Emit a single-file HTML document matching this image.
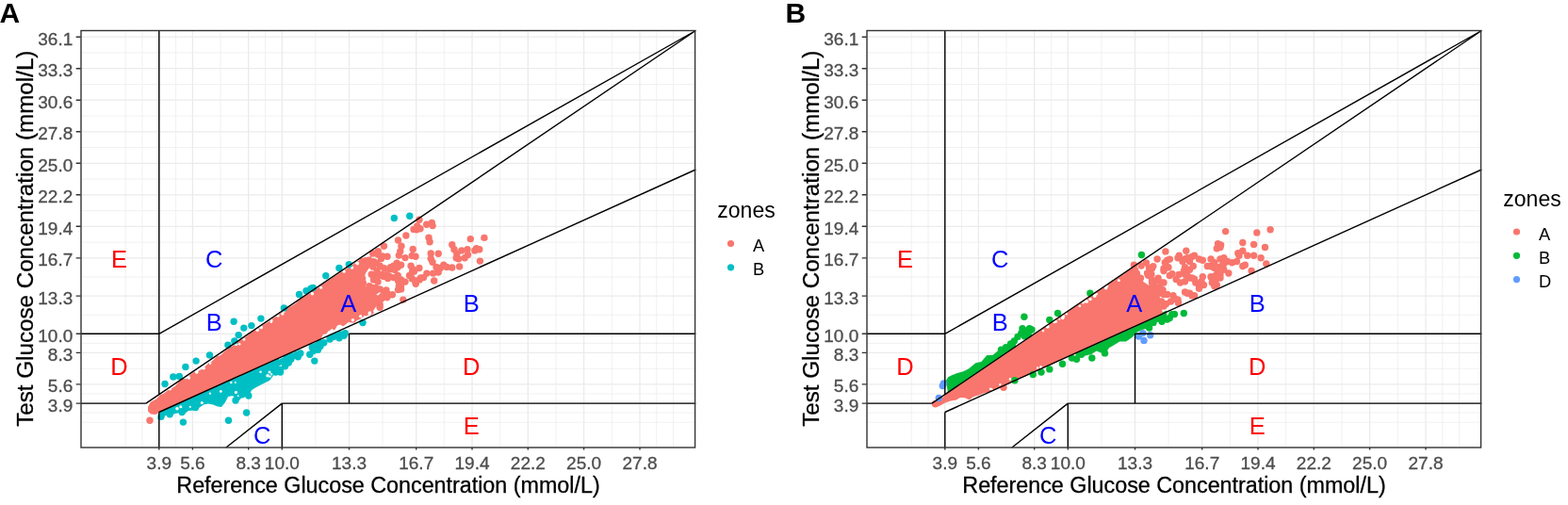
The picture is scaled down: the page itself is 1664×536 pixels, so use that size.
<!DOCTYPE html>
<html><head><meta charset="utf-8"><title>Clarke Error Grid</title>
<style>
html,body{margin:0;padding:0;background:#fff;}
body{width:1664px;height:536px;overflow:hidden;}
svg{display:block;font-family:"Liberation Sans",Arial,sans-serif;}
</style></head><body>
<svg width="1664" height="536" viewBox="0 0 1664 536">
<rect width="1664" height="536" fill="#fff"/>
<g>
<g stroke="#EBEBEB" fill="none">
<line x1="133.2" y1="32.5" x2="133.2" y2="475" stroke-width="0.7"/>
<line x1="151" y1="32.5" x2="151" y2="475" stroke-width="0.7"/>
<line x1="186.6" y1="32.5" x2="186.6" y2="475" stroke-width="0.7"/>
<line x1="234" y1="32.5" x2="234" y2="475" stroke-width="0.7"/>
<line x1="281.5" y1="32.5" x2="281.5" y2="475" stroke-width="0.7"/>
<line x1="334.9" y1="32.5" x2="334.9" y2="475" stroke-width="0.7"/>
<line x1="406.1" y1="32.5" x2="406.1" y2="475" stroke-width="0.7"/>
<line x1="471.3" y1="32.5" x2="471.3" y2="475" stroke-width="0.7"/>
<line x1="530.6" y1="32.5" x2="530.6" y2="475" stroke-width="0.7"/>
<line x1="590" y1="32.5" x2="590" y2="475" stroke-width="0.7"/>
<line x1="649.3" y1="32.5" x2="649.3" y2="475" stroke-width="0.7"/>
<line x1="696.7" y1="32.5" x2="696.7" y2="475" stroke-width="0.7"/>
<line x1="714.5" y1="32.5" x2="714.5" y2="475" stroke-width="0.7"/>
<line x1="85.7" y1="448.2" x2="738.3" y2="448.2" stroke-width="0.7"/>
<line x1="85.7" y1="438.1" x2="738.3" y2="438.1" stroke-width="0.7"/>
<line x1="85.7" y1="418" x2="738.3" y2="418" stroke-width="0.7"/>
<line x1="85.7" y1="391.2" x2="738.3" y2="391.2" stroke-width="0.7"/>
<line x1="85.7" y1="364.4" x2="738.3" y2="364.4" stroke-width="0.7"/>
<line x1="85.7" y1="334.2" x2="738.3" y2="334.2" stroke-width="0.7"/>
<line x1="85.7" y1="294" x2="738.3" y2="294" stroke-width="0.7"/>
<line x1="85.7" y1="257.1" x2="738.3" y2="257.1" stroke-width="0.7"/>
<line x1="85.7" y1="223.6" x2="738.3" y2="223.6" stroke-width="0.7"/>
<line x1="85.7" y1="190" x2="738.3" y2="190" stroke-width="0.7"/>
<line x1="85.7" y1="156.5" x2="738.3" y2="156.5" stroke-width="0.7"/>
<line x1="85.7" y1="123" x2="738.3" y2="123" stroke-width="0.7"/>
<line x1="85.7" y1="89.5" x2="738.3" y2="89.5" stroke-width="0.7"/>
<line x1="85.7" y1="55.9" x2="738.3" y2="55.9" stroke-width="0.7"/>
<line x1="168.8" y1="32.5" x2="168.8" y2="475" stroke-width="1.3"/>
<line x1="204.4" y1="32.5" x2="204.4" y2="475" stroke-width="1.3"/>
<line x1="263.7" y1="32.5" x2="263.7" y2="475" stroke-width="1.3"/>
<line x1="299.3" y1="32.5" x2="299.3" y2="475" stroke-width="1.3"/>
<line x1="370.5" y1="32.5" x2="370.5" y2="475" stroke-width="1.3"/>
<line x1="441.7" y1="32.5" x2="441.7" y2="475" stroke-width="1.3"/>
<line x1="501" y1="32.5" x2="501" y2="475" stroke-width="1.3"/>
<line x1="560.3" y1="32.5" x2="560.3" y2="475" stroke-width="1.3"/>
<line x1="619.6" y1="32.5" x2="619.6" y2="475" stroke-width="1.3"/>
<line x1="679" y1="32.5" x2="679" y2="475" stroke-width="1.3"/>
<line x1="85.7" y1="428.1" x2="738.3" y2="428.1" stroke-width="1.3"/>
<line x1="85.7" y1="407.9" x2="738.3" y2="407.9" stroke-width="1.3"/>
<line x1="85.7" y1="374.4" x2="738.3" y2="374.4" stroke-width="1.3"/>
<line x1="85.7" y1="354.3" x2="738.3" y2="354.3" stroke-width="1.3"/>
<line x1="85.7" y1="314.1" x2="738.3" y2="314.1" stroke-width="1.3"/>
<line x1="85.7" y1="273.9" x2="738.3" y2="273.9" stroke-width="1.3"/>
<line x1="85.7" y1="240.3" x2="738.3" y2="240.3" stroke-width="1.3"/>
<line x1="85.7" y1="206.8" x2="738.3" y2="206.8" stroke-width="1.3"/>
<line x1="85.7" y1="173.3" x2="738.3" y2="173.3" stroke-width="1.3"/>
<line x1="85.7" y1="139.8" x2="738.3" y2="139.8" stroke-width="1.3"/>
<line x1="85.7" y1="106.2" x2="738.3" y2="106.2" stroke-width="1.3"/>
<line x1="85.7" y1="72.7" x2="738.3" y2="72.7" stroke-width="1.3"/>
<line x1="85.7" y1="39.2" x2="738.3" y2="39.2" stroke-width="1.3"/>
</g>
<polygon points="167.0,445.0 172.0,443.0 176.0,441.0 181.0,441.0 186.0,439.0 191.0,438.0 196.0,439.0 200.0,436.0 206.0,435.5 211.0,433.0 216.0,429.5 221.0,428.5 226.0,429.5 231.0,431.5 235.0,432.0 239.0,427.0 242.0,421.0 247.0,420.0 251.0,424.0 254.0,425.0 258.0,420.0 264.0,421.0 267.0,414.0 272.0,411.0 278.8,407.5 286.3,403.8 292.0,396.0 296.0,392.0 296.0,378.7 291.0,381.0 286.0,383.2 281.0,385.5 276.0,387.8 271.0,390.0 266.0,392.3 261.0,394.5 256.0,396.8 251.0,399.1 246.0,401.3 241.0,403.6 236.0,405.9 231.0,408.1 226.0,410.4 221.0,412.6 216.0,414.9 211.0,417.2 206.0,419.4 201.0,421.7 196.0,423.9 191.0,426.2 186.0,428.5 181.0,430.7 176.0,433.0 171.0,435.2" fill="#00BFC4"/>
<g fill="#fff"><circle cx="250.4" cy="416.4" r="1.6"/><circle cx="284.0" cy="398.8" r="1.7"/><circle cx="188.0" cy="433.8" r="1.8"/><circle cx="253.1" cy="420.2" r="1.1"/><circle cx="234.3" cy="415.4" r="1.4"/><circle cx="245.3" cy="406.0" r="1.2"/><circle cx="214.3" cy="427.5" r="1.6"/><circle cx="201.8" cy="431.8" r="1.1"/><circle cx="249.8" cy="405.9" r="1.0"/><circle cx="276.5" cy="394.8" r="1.2"/><circle cx="288.2" cy="397.2" r="1.2"/><circle cx="286.0" cy="395.0" r="1.5"/><circle cx="206.5" cy="432.2" r="1.6"/><circle cx="286.5" cy="399.6" r="1.2"/><circle cx="222.9" cy="417.7" r="1.1"/><circle cx="191.8" cy="431.7" r="1.5"/></g>
<g fill="#00BFC4"><circle cx="292.5" cy="388.8" r="3.7"/><circle cx="297.5" cy="392.5" r="3.7"/><circle cx="302.5" cy="388.8" r="3.7"/><circle cx="306.3" cy="385.0" r="3.7"/><circle cx="300.0" cy="383.8" r="3.7"/><circle cx="295.0" cy="385.0" r="3.7"/><circle cx="303.8" cy="380.0" r="3.7"/><circle cx="308.8" cy="381.3" r="3.7"/><circle cx="297.5" cy="395.0" r="3.7"/><circle cx="292.5" cy="395.0" r="3.7"/><circle cx="303.8" cy="375.0" r="3.7"/><circle cx="315.0" cy="376.3" r="3.7"/><circle cx="318.8" cy="375.0" r="3.7"/><circle cx="316.3" cy="378.8" r="3.7"/><circle cx="302.5" cy="374.4" r="3.7"/><circle cx="310.0" cy="378.0" r="3.7"/><circle cx="328.8" cy="376.3" r="3.7"/><circle cx="332.5" cy="372.5" r="3.7"/><circle cx="337.5" cy="371.3" r="3.7"/><circle cx="340.0" cy="367.5" r="3.7"/><circle cx="343.8" cy="363.8" r="3.7"/><circle cx="338.8" cy="363.8" r="3.7"/><circle cx="335.0" cy="367.5" r="3.7"/><circle cx="331.3" cy="368.8" r="3.7"/><circle cx="333.8" cy="383.1" r="3.7"/><circle cx="350.0" cy="360.0" r="3.7"/><circle cx="353.8" cy="357.5" r="3.7"/><circle cx="357.5" cy="356.3" r="3.7"/><circle cx="361.3" cy="355.0" r="3.7"/><circle cx="365.0" cy="356.3" r="3.7"/><circle cx="366.3" cy="353.8" r="3.7"/><circle cx="360.0" cy="358.8" r="3.7"/><circle cx="385.0" cy="342.5" r="3.7"/></g>
<polygon points="157.0,432.0 160.0,426.5 166.0,423.5 170.0,419.2 174.0,417.5 178.0,414.2 182.0,412.3 186.0,409.7 190.0,405.0 194.0,402.1 198.0,402.3 202.0,397.5 206.0,394.7 210.0,394.7 214.0,390.1 218.0,388.7 222.0,384.7 226.0,382.6 230.0,378.2 234.0,377.2 238.0,373.3 242.0,370.1 246.0,367.7 250.0,364.9 254.0,361.4 258.0,359.6 262.0,356.7 266.0,353.6 270.0,350.6 274.0,348.8 278.0,345.7 282.0,343.2 286.0,340.7 290.0,337.8 294.0,335.4 298.0,332.0 302.0,329.8 306.0,326.6 310.0,324.5 314.0,321.7 318.0,318.1 322.0,315.4 326.0,312.8 330.0,311.0 334.0,307.6 338.0,305.2 342.0,302.1 346.0,299.6 350.0,296.7 354.0,294.0 358.0,291.5 362.0,288.8 366.0,286.5 370.0,283.5 374.0,281.1 378.0,278.3 382.0,275.8 382.5,274.2 394.0,272.0 396.0,278.0 388.0,290.0 385.0,300.0 390.0,306.0 397.0,310.0 402.0,316.0 400.0,324.0 396.0,330.0 398.0,334.8 397.0,332.1 394.0,334.7 391.0,334.3 388.0,335.4 385.0,336.9 382.0,339.1 379.0,340.1 376.0,342.7 373.0,342.5 370.0,341.7 367.0,344.2 364.0,346.4 361.0,344.6 358.0,345.4 355.0,350.4 352.0,348.9 349.0,351.8 346.0,354.2 343.0,355.0 340.0,360.5 337.0,361.9 334.0,363.2 331.0,364.6 328.0,366.0 325.0,367.3 322.0,368.7 319.0,370.0 316.0,371.4 313.0,372.7 310.0,374.1 307.0,375.5 304.0,376.8 301.0,378.2 298.0,379.5 295.0,380.9 292.0,382.2 289.0,383.6 286.0,384.9 283.0,386.3 280.0,387.7 277.0,389.0 274.0,390.4 271.0,391.7 268.0,393.1 265.0,394.4 262.0,395.8 259.0,397.2 256.0,398.5 253.0,399.9 250.0,401.2 247.0,402.6 244.0,403.9 241.0,405.3 238.0,406.6 235.0,408.0 232.0,409.4 229.0,410.7 226.0,412.1 223.0,413.4 220.0,414.8 217.0,416.1 214.0,417.5 211.0,418.9 208.0,420.2 205.0,421.6 202.0,422.9 199.0,424.3 196.0,425.6 193.0,427.0 190.0,428.3 187.0,429.7 184.0,431.1 181.0,432.4 178.0,433.8 175.0,435.1 172.0,436.5 169.0,437.8 169.0,437.8 165.0,440.0 160.0,439.5 157.0,436.5" fill="#F8766D"/>
<g fill="#fff"><circle cx="208.8" cy="395.2" r="1.6"/><circle cx="273.2" cy="350.2" r="1.7"/><circle cx="340.6" cy="305.3" r="1.5"/><circle cx="223.4" cy="383.4" r="1.3"/><circle cx="295.0" cy="335.1" r="1.7"/><circle cx="222.6" cy="384.6" r="1.0"/><circle cx="379.5" cy="279.6" r="1.8"/><circle cx="301.3" cy="330.7" r="1.3"/><circle cx="277.0" cy="347.4" r="1.9"/><circle cx="250.5" cy="365.4" r="1.7"/><circle cx="200.6" cy="401.4" r="1.4"/><circle cx="288.2" cy="340.4" r="1.4"/><circle cx="213.3" cy="390.4" r="1.8"/><circle cx="223.1" cy="385.7" r="1.2"/><circle cx="373.6" cy="284.0" r="1.7"/><circle cx="331.4" cy="311.8" r="1.7"/><circle cx="200.1" cy="400.5" r="1.7"/><circle cx="216.2" cy="390.8" r="1.8"/><circle cx="259.0" cy="360.3" r="1.4"/><circle cx="254.1" cy="365.3" r="1.3"/><circle cx="180.5" cy="412.8" r="1.6"/><circle cx="378.5" cy="279.6" r="1.4"/><circle cx="287.8" cy="341.7" r="1.2"/><circle cx="299.8" cy="333.1" r="1.6"/><circle cx="212.0" cy="391.6" r="1.3"/><circle cx="365.1" cy="288.3" r="1.5"/><circle cx="349.9" cy="353.1" r="1.1"/><circle cx="382.9" cy="335.5" r="1.3"/><circle cx="374.4" cy="339.8" r="1.7"/><circle cx="392.3" cy="332.8" r="1.8"/><circle cx="392.5" cy="331.9" r="1.7"/><circle cx="361.9" cy="346.6" r="1.2"/><circle cx="386.9" cy="336.2" r="1.1"/><circle cx="382.3" cy="335.8" r="1.4"/><circle cx="384.4" cy="337.8" r="1.2"/><circle cx="348.8" cy="352.4" r="1.1"/></g>
<g fill="#F8766D"><circle cx="159.0" cy="446.3" r="3.7"/><circle cx="444.9" cy="233.2" r="3.7"/><circle cx="442.7" cy="239.9" r="3.7"/><circle cx="442.1" cy="243.8" r="3.7"/><circle cx="446.0" cy="242.7" r="3.7"/><circle cx="452.7" cy="238.2" r="3.7"/><circle cx="458.3" cy="236.5" r="3.7"/><circle cx="430.9" cy="250.0" r="3.7"/><circle cx="422.5" cy="255.0" r="3.7"/><circle cx="425.9" cy="261.2" r="3.7"/><circle cx="424.8" cy="266.8" r="3.7"/><circle cx="438.2" cy="264.5" r="3.7"/><circle cx="441.0" cy="272.3" r="3.7"/><circle cx="455.0" cy="252.2" r="3.7"/><circle cx="456.1" cy="256.7" r="3.7"/><circle cx="407.4" cy="261.2" r="3.7"/><circle cx="401.3" cy="266.8" r="3.7"/><circle cx="395.7" cy="269.0" r="3.7"/><circle cx="404.6" cy="274.6" r="3.7"/><circle cx="389.0" cy="276.8" r="3.7"/><circle cx="384.5" cy="278.0" r="3.7"/><circle cx="457.2" cy="269.0" r="3.7"/><circle cx="457.2" cy="274.6" r="3.7"/><circle cx="459.1" cy="239.6" r="3.7"/><circle cx="499.3" cy="253.6" r="3.7"/><circle cx="513.9" cy="252.4" r="3.7"/><circle cx="479.8" cy="259.7" r="3.7"/><circle cx="482.0" cy="264.8" r="3.7"/><circle cx="484.8" cy="269.2" r="3.7"/><circle cx="484.2" cy="273.7" r="3.7"/><circle cx="489.8" cy="265.9" r="3.7"/><circle cx="496.0" cy="264.8" r="3.7"/><circle cx="496.5" cy="270.4" r="3.7"/><circle cx="493.2" cy="273.7" r="3.7"/><circle cx="503.8" cy="265.9" r="3.7"/><circle cx="508.8" cy="264.8" r="3.7"/><circle cx="509.4" cy="277.1" r="3.7"/><circle cx="437.2" cy="271.5" r="3.7"/><circle cx="465.2" cy="269.2" r="3.7"/><circle cx="459.0" cy="278.2" r="3.7"/><circle cx="505.6" cy="263.6" r="3.7"/><circle cx="486.6" cy="274.8" r="3.7"/><circle cx="487.6" cy="282.9" r="3.7"/><circle cx="479.8" cy="284.0" r="3.7"/><circle cx="474.2" cy="283.4" r="3.7"/><circle cx="470.8" cy="281.2" r="3.7"/><circle cx="467.4" cy="284.5" r="3.7"/><circle cx="463.0" cy="283.4" r="3.7"/><circle cx="465.2" cy="289.0" r="3.7"/><circle cx="460.7" cy="298.0" r="3.7"/><circle cx="459.6" cy="290.1" r="3.7"/><circle cx="452.9" cy="290.1" r="3.7"/><circle cx="449.5" cy="294.6" r="3.7"/><circle cx="445.1" cy="296.9" r="3.7"/><circle cx="441.2" cy="301.3" r="3.7"/><circle cx="439.5" cy="287.9" r="3.7"/><circle cx="437.2" cy="295.7" r="3.7"/><circle cx="436.1" cy="282.3" r="3.7"/><circle cx="439.0" cy="243.4" r="3.7"/><circle cx="399.8" cy="279.2" r="3.7"/><circle cx="430.0" cy="273.6" r="3.7"/><circle cx="421.1" cy="279.2" r="3.7"/><circle cx="414.4" cy="283.7" r="3.7"/><circle cx="407.7" cy="284.8" r="3.7"/><circle cx="392.0" cy="277.0" r="3.7"/><circle cx="401.0" cy="270.0" r="3.7"/><circle cx="411.0" cy="272.2" r="3.7"/><circle cx="423.3" cy="271.1" r="3.7"/><circle cx="403.2" cy="282.3" r="3.7"/><circle cx="417.7" cy="282.3" r="3.7"/><circle cx="422.2" cy="283.4" r="3.7"/><circle cx="425.6" cy="281.2" r="3.7"/><circle cx="437.9" cy="285.7" r="3.7"/><circle cx="394.2" cy="291.3" r="3.7"/><circle cx="398.7" cy="292.4" r="3.7"/><circle cx="403.2" cy="292.4" r="3.7"/><circle cx="396.5" cy="296.9" r="3.7"/><circle cx="401.0" cy="299.1" r="3.7"/><circle cx="413.3" cy="293.5" r="3.7"/><circle cx="417.7" cy="294.6" r="3.7"/><circle cx="422.2" cy="292.4" r="3.7"/><circle cx="425.6" cy="296.9" r="3.7"/><circle cx="430.0" cy="299.1" r="3.7"/><circle cx="423.3" cy="303.6" r="3.7"/><circle cx="425.6" cy="306.9" r="3.7"/><circle cx="434.5" cy="292.4" r="3.7"/><circle cx="392.0" cy="303.6" r="3.7"/><circle cx="394.2" cy="306.9" r="3.7"/><circle cx="398.7" cy="305.8" r="3.7"/><circle cx="403.2" cy="306.9" r="3.7"/><circle cx="407.7" cy="310.3" r="3.7"/><circle cx="412.1" cy="313.6" r="3.7"/><circle cx="409.9" cy="308.0" r="3.7"/><circle cx="392.0" cy="312.5" r="3.7"/><circle cx="396.5" cy="314.8" r="3.7"/><circle cx="401.0" cy="317.0" r="3.7"/><circle cx="405.4" cy="314.8" r="3.7"/><circle cx="398.7" cy="321.5" r="3.7"/><circle cx="403.2" cy="323.7" r="3.7"/><circle cx="427.8" cy="318.1" r="3.7"/><circle cx="395.7" cy="283.0" r="3.7"/><circle cx="400.1" cy="287.5" r="3.7"/><circle cx="398.7" cy="308.4" r="3.7"/><circle cx="410.6" cy="311.3" r="3.7"/><circle cx="410.6" cy="315.8" r="3.7"/><circle cx="404.6" cy="317.3" r="3.7"/><circle cx="403.1" cy="326.3" r="3.7"/><circle cx="394.2" cy="323.3" r="3.7"/><circle cx="395.7" cy="317.3" r="3.7"/><circle cx="413.6" cy="286.0" r="3.7"/><circle cx="422.5" cy="297.9" r="3.7"/><circle cx="425.5" cy="303.9" r="3.7"/><circle cx="422.5" cy="307.6" r="3.7"/><circle cx="437.5" cy="289.0" r="3.7"/><circle cx="440.4" cy="297.9" r="3.7"/><circle cx="446.4" cy="294.9" r="3.7"/><circle cx="444.9" cy="284.5" r="3.7"/><circle cx="396.6" cy="277.7" r="3.7"/><circle cx="405.5" cy="291.4" r="3.7"/><circle cx="385.4" cy="300.5" r="3.7"/><circle cx="384.6" cy="295.8" r="3.7"/><circle cx="400.8" cy="320.9" r="3.7"/><circle cx="388.2" cy="282.3" r="3.7"/><circle cx="407.2" cy="293.4" r="3.7"/><circle cx="419.1" cy="286.5" r="3.7"/><circle cx="396.0" cy="320.2" r="3.7"/><circle cx="409.8" cy="291.8" r="3.7"/><circle cx="406.0" cy="272.0" r="3.7"/><circle cx="385.5" cy="281.2" r="3.7"/><circle cx="411.6" cy="295.4" r="3.7"/><circle cx="396.2" cy="305.5" r="3.7"/><circle cx="416.4" cy="312.7" r="3.7"/></g>
<g fill="#00BFC4"><circle cx="175.0" cy="407.5" r="3.7"/><circle cx="183.8" cy="400.0" r="3.7"/><circle cx="190.3" cy="399.4" r="3.7"/><circle cx="196.9" cy="389.4" r="3.7"/><circle cx="208.1" cy="383.1" r="3.7"/><circle cx="222.5" cy="376.9" r="3.7"/><circle cx="241.9" cy="366.3" r="3.7"/><circle cx="248.8" cy="361.9" r="3.7"/><circle cx="253.1" cy="355.6" r="3.7"/><circle cx="258.8" cy="348.1" r="3.7"/><circle cx="248.1" cy="341.3" r="3.7"/><circle cx="266.9" cy="345.6" r="3.7"/><circle cx="276.9" cy="338.1" r="3.7"/><circle cx="301.3" cy="326.9" r="3.7"/><circle cx="317.5" cy="312.5" r="3.7"/><circle cx="325.0" cy="308.8" r="3.7"/><circle cx="330.0" cy="306.3" r="3.7"/><circle cx="332.2" cy="305.4" r="3.7"/><circle cx="345.8" cy="292.8" r="3.7"/><circle cx="359.9" cy="284.5" r="3.7"/><circle cx="370.3" cy="280.7" r="3.7"/><circle cx="418.3" cy="231.5" r="3.7"/><circle cx="434.8" cy="229.3" r="3.7"/><circle cx="171.0" cy="442.2" r="3.7"/><circle cx="180.2" cy="439.7" r="3.7"/><circle cx="194.4" cy="448.1" r="3.7"/><circle cx="193.1" cy="437.5" r="3.7"/><circle cx="207.5" cy="432.5" r="3.7"/><circle cx="242.5" cy="446.3" r="3.7"/><circle cx="261.6" cy="438.0" r="3.7"/><circle cx="250.0" cy="425.0" r="3.7"/><circle cx="256.9" cy="418.8" r="3.7"/><circle cx="263.8" cy="420.0" r="3.7"/></g>
<path d="M85.7 428.1L154.9 428.1M154.9 428.1L738.3 32.5M168.8 475L168.8 437.5M168.8 437.5L738.3 180M168.8 418.7L168.8 32.5M85.7 354.3L168.8 354.3M168.8 354.3L738.3 32.5M239.9 475L299.3 428.1M299.3 475L299.3 428.1M299.3 428.1L738.3 428.1M370.5 428.1L370.5 354.3M370.5 354.3L738.3 354.3" stroke="#000" stroke-width="1.4" fill="none"/>
<text x="369.7" y="330.6" fill="#0000FF" font-size="25.5" text-anchor="middle">A</text>
<text x="227.3" y="350.7" fill="#0000FF" font-size="25.5" text-anchor="middle">B</text>
<text x="500.2" y="330.6" fill="#0000FF" font-size="25.5" text-anchor="middle">B</text>
<text x="227.3" y="283.7" fill="#0000FF" font-size="25.5" text-anchor="middle">C</text>
<text x="278.3" y="471.4" fill="#0000FF" font-size="25.5" text-anchor="middle">C</text>
<text x="126.4" y="397.6" fill="#FF0000" font-size="25.5" text-anchor="middle">D</text>
<text x="500.2" y="397.6" fill="#FF0000" font-size="25.5" text-anchor="middle">D</text>
<text x="126.4" y="283.7" fill="#FF0000" font-size="25.5" text-anchor="middle">E</text>
<text x="500.2" y="461.3" fill="#FF0000" font-size="25.5" text-anchor="middle">E</text>
<rect x="86" y="32.5" width="651.6" height="442.5" fill="none" stroke="#333" stroke-width="1.4"/>
<path d="M168.8 475v2.6M204.4 475v2.6M263.7 475v2.6M299.3 475v2.6M370.5 475v2.6M441.7 475v2.6M501 475v2.6M560.3 475v2.6M619.6 475v2.6M679 475v2.6M85.7 428.1h-5M85.7 407.9h-5M85.7 374.4h-5M85.7 354.3h-5M85.7 314.1h-5M85.7 273.9h-5M85.7 240.3h-5M85.7 206.8h-5M85.7 173.3h-5M85.7 139.8h-5M85.7 106.2h-5M85.7 72.7h-5M85.7 39.2h-5" stroke="#333" stroke-width="1.4"/>
<g fill="#4D4D4D" font-size="17.7" stroke="#4D4D4D" stroke-width="0.3">
<text transform="translate(168.8 497.7) scale(1.075 1)" text-anchor="middle">3.9</text>
<text transform="translate(204.4 497.7) scale(1.075 1)" text-anchor="middle">5.6</text>
<text transform="translate(263.7 497.7) scale(1.075 1)" text-anchor="middle">8.3</text>
<text transform="translate(299.3 497.7) scale(1.075 1)" text-anchor="middle">10.0</text>
<text transform="translate(370.5 497.7) scale(1.075 1)" text-anchor="middle">13.3</text>
<text transform="translate(441.7 497.7) scale(1.075 1)" text-anchor="middle">16.7</text>
<text transform="translate(501 497.7) scale(1.075 1)" text-anchor="middle">19.4</text>
<text transform="translate(560.3 497.7) scale(1.075 1)" text-anchor="middle">22.2</text>
<text transform="translate(619.6 497.7) scale(1.075 1)" text-anchor="middle">25.0</text>
<text transform="translate(679 497.7) scale(1.075 1)" text-anchor="middle">27.8</text>
<text transform="translate(77.3 436.5) scale(1.075 1)" text-anchor="end">3.9</text>
<text transform="translate(77.3 416.3) scale(1.075 1)" text-anchor="end">5.6</text>
<text transform="translate(77.3 382.8) scale(1.075 1)" text-anchor="end">8.3</text>
<text transform="translate(77.3 362.7) scale(1.075 1)" text-anchor="end">10.0</text>
<text transform="translate(77.3 322.5) scale(1.075 1)" text-anchor="end">13.3</text>
<text transform="translate(77.3 282.2) scale(1.075 1)" text-anchor="end">16.7</text>
<text transform="translate(77.3 248.7) scale(1.075 1)" text-anchor="end">19.4</text>
<text transform="translate(77.3 215.2) scale(1.075 1)" text-anchor="end">22.2</text>
<text transform="translate(77.3 181.7) scale(1.075 1)" text-anchor="end">25.0</text>
<text transform="translate(77.3 148.2) scale(1.075 1)" text-anchor="end">27.8</text>
<text transform="translate(77.3 114.6) scale(1.075 1)" text-anchor="end">30.6</text>
<text transform="translate(77.3 81.1) scale(1.075 1)" text-anchor="end">33.3</text>
<text transform="translate(77.3 47.6) scale(1.075 1)" text-anchor="end">36.1</text>
</g>
<text x="412" y="522.6" font-size="23.3" text-anchor="middle" fill="#000" stroke="#000" stroke-width="0.3">Reference Glucose Concentration (mmol/L)</text>
<text transform="translate(35.2 253.2) rotate(-90)" font-size="24.2" text-anchor="middle" fill="#000" stroke="#000" stroke-width="0.3">Test Glucose Concentration (mmol/L)</text>
<text x="-0.5" y="24.3" font-size="30" font-weight="bold" fill="#000">A</text>
<text x="761.3" y="231" font-size="23" fill="#000">zones</text>
<circle cx="775.5" cy="258.5" r="3.6" fill="#F8766D"/>
<text x="799" y="267.1" font-size="18.3" fill="#000">A</text>
<circle cx="775.5" cy="283.8" r="3.6" fill="#00BFC4"/>
<text x="799" y="292.4" font-size="18.3" fill="#000">B</text>
</g>
<g transform="translate(834 0)">
<g stroke="#EBEBEB" fill="none">
<line x1="133.2" y1="32.5" x2="133.2" y2="475" stroke-width="0.7"/>
<line x1="151" y1="32.5" x2="151" y2="475" stroke-width="0.7"/>
<line x1="186.6" y1="32.5" x2="186.6" y2="475" stroke-width="0.7"/>
<line x1="234" y1="32.5" x2="234" y2="475" stroke-width="0.7"/>
<line x1="281.5" y1="32.5" x2="281.5" y2="475" stroke-width="0.7"/>
<line x1="334.9" y1="32.5" x2="334.9" y2="475" stroke-width="0.7"/>
<line x1="406.1" y1="32.5" x2="406.1" y2="475" stroke-width="0.7"/>
<line x1="471.3" y1="32.5" x2="471.3" y2="475" stroke-width="0.7"/>
<line x1="530.6" y1="32.5" x2="530.6" y2="475" stroke-width="0.7"/>
<line x1="590" y1="32.5" x2="590" y2="475" stroke-width="0.7"/>
<line x1="649.3" y1="32.5" x2="649.3" y2="475" stroke-width="0.7"/>
<line x1="696.7" y1="32.5" x2="696.7" y2="475" stroke-width="0.7"/>
<line x1="714.5" y1="32.5" x2="714.5" y2="475" stroke-width="0.7"/>
<line x1="85.7" y1="448.2" x2="738.3" y2="448.2" stroke-width="0.7"/>
<line x1="85.7" y1="438.1" x2="738.3" y2="438.1" stroke-width="0.7"/>
<line x1="85.7" y1="418" x2="738.3" y2="418" stroke-width="0.7"/>
<line x1="85.7" y1="391.2" x2="738.3" y2="391.2" stroke-width="0.7"/>
<line x1="85.7" y1="364.4" x2="738.3" y2="364.4" stroke-width="0.7"/>
<line x1="85.7" y1="334.2" x2="738.3" y2="334.2" stroke-width="0.7"/>
<line x1="85.7" y1="294" x2="738.3" y2="294" stroke-width="0.7"/>
<line x1="85.7" y1="257.1" x2="738.3" y2="257.1" stroke-width="0.7"/>
<line x1="85.7" y1="223.6" x2="738.3" y2="223.6" stroke-width="0.7"/>
<line x1="85.7" y1="190" x2="738.3" y2="190" stroke-width="0.7"/>
<line x1="85.7" y1="156.5" x2="738.3" y2="156.5" stroke-width="0.7"/>
<line x1="85.7" y1="123" x2="738.3" y2="123" stroke-width="0.7"/>
<line x1="85.7" y1="89.5" x2="738.3" y2="89.5" stroke-width="0.7"/>
<line x1="85.7" y1="55.9" x2="738.3" y2="55.9" stroke-width="0.7"/>
<line x1="168.8" y1="32.5" x2="168.8" y2="475" stroke-width="1.3"/>
<line x1="204.4" y1="32.5" x2="204.4" y2="475" stroke-width="1.3"/>
<line x1="263.7" y1="32.5" x2="263.7" y2="475" stroke-width="1.3"/>
<line x1="299.3" y1="32.5" x2="299.3" y2="475" stroke-width="1.3"/>
<line x1="370.5" y1="32.5" x2="370.5" y2="475" stroke-width="1.3"/>
<line x1="441.7" y1="32.5" x2="441.7" y2="475" stroke-width="1.3"/>
<line x1="501" y1="32.5" x2="501" y2="475" stroke-width="1.3"/>
<line x1="560.3" y1="32.5" x2="560.3" y2="475" stroke-width="1.3"/>
<line x1="619.6" y1="32.5" x2="619.6" y2="475" stroke-width="1.3"/>
<line x1="679" y1="32.5" x2="679" y2="475" stroke-width="1.3"/>
<line x1="85.7" y1="428.1" x2="738.3" y2="428.1" stroke-width="1.3"/>
<line x1="85.7" y1="407.9" x2="738.3" y2="407.9" stroke-width="1.3"/>
<line x1="85.7" y1="374.4" x2="738.3" y2="374.4" stroke-width="1.3"/>
<line x1="85.7" y1="354.3" x2="738.3" y2="354.3" stroke-width="1.3"/>
<line x1="85.7" y1="314.1" x2="738.3" y2="314.1" stroke-width="1.3"/>
<line x1="85.7" y1="273.9" x2="738.3" y2="273.9" stroke-width="1.3"/>
<line x1="85.7" y1="240.3" x2="738.3" y2="240.3" stroke-width="1.3"/>
<line x1="85.7" y1="206.8" x2="738.3" y2="206.8" stroke-width="1.3"/>
<line x1="85.7" y1="173.3" x2="738.3" y2="173.3" stroke-width="1.3"/>
<line x1="85.7" y1="139.8" x2="738.3" y2="139.8" stroke-width="1.3"/>
<line x1="85.7" y1="106.2" x2="738.3" y2="106.2" stroke-width="1.3"/>
<line x1="85.7" y1="72.7" x2="738.3" y2="72.7" stroke-width="1.3"/>
<line x1="85.7" y1="39.2" x2="738.3" y2="39.2" stroke-width="1.3"/>
</g>
<g transform="translate(-834 0)"><polygon points="1004.0,404.0 1006.1,400.3 1010.1,398.2 1015.2,396.2 1022.2,394.2 1028.2,391.2 1035.3,385.2 1041.3,384.1 1047.4,377.1 1053.4,377.1 1060.5,371.0 1067.5,367.0 1074.6,365.0 1078.0,363.0 1078.0,369.2 1072.0,373.2 1066.0,377.3 1060.0,381.4 1054.0,385.4 1048.0,389.5 1042.0,393.6 1036.0,397.6 1030.0,401.7 1024.0,405.8 1018.0,409.8 1012.0,413.9 1006.0,418.0" fill="#00BA38"/>
<polygon points="1141.2,379.3 1150.0,378.0 1158.0,376.0 1163.6,372.6 1172.5,376.0 1177.0,369.3 1182.6,365.9 1188.2,362.5 1195.0,362.5 1201.6,358.1 1206.0,353.0 1212.0,350.0 1219.6,348.0 1224.0,342.4 1233.0,341.3 1238.6,339.0 1238.0,329.6 1232.0,332.3 1226.0,335.0 1220.0,337.7 1214.0,340.5 1208.0,343.2 1202.0,345.9 1196.0,348.6 1190.0,351.3 1184.0,354.0 1178.0,356.7 1172.0,359.4 1166.0,362.2 1160.0,364.9 1154.0,367.6 1148.0,370.3 1142.0,373.0" fill="#00BA38"/>
<polygon points="990.0,430.0 994.0,425.5 1001.0,421.5 1004.0,418.3 1010.0,414.3 1016.0,410.2 1022.0,406.1 1028.0,402.1 1034.0,398.0 1040.0,393.9 1046.0,389.9 1052.0,385.8 1058.0,381.7 1064.0,377.6 1070.0,373.6 1076.0,369.5 1082.0,365.4 1088.0,361.4 1094.0,357.3 1100.0,353.2 1106.0,349.2 1112.0,345.1 1118.0,341.0 1124.0,337.0 1130.0,332.9 1136.0,328.8 1142.0,324.8 1148.0,320.7 1154.0,316.6 1160.0,312.5 1166.0,308.5 1172.0,304.4 1178.0,300.3 1184.0,296.3 1190.0,292.2 1196.0,288.1 1201.0,284.7 1203.0,286.0 1206.0,290.0 1210.0,297.0 1218.0,302.0 1226.0,310.0 1230.0,320.0 1233.0,327.0 1234.0,333.9 1232.0,334.3 1226.0,337.0 1220.0,339.7 1214.0,342.5 1208.0,345.2 1202.0,347.9 1196.0,350.6 1190.0,353.3 1184.0,356.0 1178.0,358.7 1172.0,361.4 1166.0,364.2 1160.0,366.9 1154.0,369.6 1148.0,372.3 1142.0,375.0 1136.0,377.7 1130.0,380.4 1124.0,383.1 1118.0,385.9 1112.0,388.6 1106.0,391.3 1100.0,394.0 1094.0,396.7 1088.0,399.4 1082.0,402.1 1076.0,404.8 1070.0,407.6 1064.0,410.3 1058.0,413.0 1052.0,415.7 1045.0,417.0 1038.8,419.4 1032.5,421.3 1028.8,424.4 1024.0,422.3 1019.0,422.0 1015.0,424.4 1009.0,425.5 1003.0,427.5 998.0,430.5 994.0,432.0" fill="#F8766D"/>
<g fill="#fff"><circle cx="1157.0" cy="317.6" r="1.7"/><circle cx="1127.7" cy="337.5" r="1.8"/><circle cx="1190.9" cy="293.4" r="1.6"/><circle cx="1161.7" cy="314.0" r="1.9"/><circle cx="1152.8" cy="319.9" r="1.8"/><circle cx="1163.6" cy="312.2" r="1.3"/><circle cx="1149.6" cy="321.0" r="1.5"/><circle cx="1173.6" cy="305.8" r="1.8"/><circle cx="1192.8" cy="293.1" r="1.6"/><circle cx="1111.7" cy="346.7" r="1.9"/><circle cx="1128.4" cy="335.8" r="1.8"/><circle cx="1175.0" cy="304.0" r="1.3"/><circle cx="1124.3" cy="338.8" r="1.0"/><circle cx="1152.5" cy="319.8" r="1.4"/><circle cx="1118.5" cy="342.3" r="1.0"/><circle cx="1187.3" cy="297.4" r="1.5"/><circle cx="1112.4" cy="346.5" r="1.1"/><circle cx="1131.7" cy="333.2" r="1.2"/><circle cx="1120.3" cy="341.3" r="1.6"/><circle cx="1145.8" cy="324.8" r="1.3"/><circle cx="1153.9" cy="320.1" r="1.3"/><circle cx="1107.0" cy="351.1" r="1.3"/><circle cx="1104.6" cy="389.6" r="1.5"/><circle cx="1051.0" cy="412.8" r="1.2"/><circle cx="1072.1" cy="402.4" r="1.4"/><circle cx="1061.4" cy="408.2" r="1.3"/><circle cx="1052.3" cy="413.3" r="1.3"/><circle cx="1101.1" cy="390.4" r="1.2"/></g>
<g fill="#F8766D"><circle cx="992.5" cy="428.8" r="3.7"/><circle cx="1065.0" cy="411.3" r="3.7"/><circle cx="1236.9" cy="266.9" r="3.7"/><circle cx="1228.1" cy="275.0" r="3.7"/><circle cx="1236.3" cy="278.8" r="3.7"/><circle cx="1238.8" cy="276.3" r="3.7"/><circle cx="1235.0" cy="285.0" r="3.7"/><circle cx="1240.0" cy="283.8" r="3.7"/><circle cx="1241.3" cy="292.5" r="3.7"/><circle cx="1222.5" cy="285.0" r="3.7"/><circle cx="1221.9" cy="291.3" r="3.7"/><circle cx="1225.0" cy="300.0" r="3.7"/><circle cx="1235.0" cy="300.0" r="3.7"/><circle cx="1230.0" cy="305.0" r="3.7"/><circle cx="1225.0" cy="308.8" r="3.7"/><circle cx="1238.8" cy="312.5" r="3.7"/><circle cx="1245.0" cy="313.8" r="3.7"/><circle cx="1258.8" cy="266.3" r="3.7"/><circle cx="1251.3" cy="271.3" r="3.7"/><circle cx="1257.5" cy="275.0" r="3.7"/><circle cx="1262.5" cy="277.5" r="3.7"/><circle cx="1267.5" cy="271.3" r="3.7"/><circle cx="1272.5" cy="275.0" r="3.7"/><circle cx="1276.3" cy="276.3" r="3.7"/><circle cx="1257.5" cy="283.8" r="3.7"/><circle cx="1262.5" cy="286.3" r="3.7"/><circle cx="1266.3" cy="282.5" r="3.7"/><circle cx="1260.0" cy="292.5" r="3.7"/><circle cx="1265.0" cy="295.0" r="3.7"/><circle cx="1257.5" cy="298.8" r="3.7"/><circle cx="1252.5" cy="300.0" r="3.7"/><circle cx="1268.8" cy="300.0" r="3.7"/><circle cx="1272.5" cy="303.8" r="3.7"/><circle cx="1277.5" cy="302.5" r="3.7"/><circle cx="1276.3" cy="293.8" r="3.7"/><circle cx="1257.5" cy="310.0" r="3.7"/><circle cx="1262.5" cy="311.3" r="3.7"/><circle cx="1267.5" cy="313.8" r="3.7"/><circle cx="1292.5" cy="258.8" r="3.7"/><circle cx="1295.0" cy="262.5" r="3.7"/><circle cx="1291.3" cy="263.8" r="3.7"/><circle cx="1285.0" cy="275.0" r="3.7"/><circle cx="1288.8" cy="278.8" r="3.7"/><circle cx="1295.0" cy="275.0" r="3.7"/><circle cx="1298.8" cy="273.8" r="3.7"/><circle cx="1302.5" cy="277.5" r="3.7"/><circle cx="1281.3" cy="282.5" r="3.7"/><circle cx="1287.5" cy="283.8" r="3.7"/><circle cx="1292.5" cy="283.8" r="3.7"/><circle cx="1296.3" cy="282.5" r="3.7"/><circle cx="1285.0" cy="293.8" r="3.7"/><circle cx="1290.0" cy="292.5" r="3.7"/><circle cx="1295.0" cy="291.3" r="3.7"/><circle cx="1286.3" cy="300.0" r="3.7"/><circle cx="1291.3" cy="302.5" r="3.7"/><circle cx="1290.0" cy="297.5" r="3.7"/><circle cx="1303.8" cy="290.0" r="3.7"/><circle cx="1307.5" cy="278.8" r="3.7"/><circle cx="1312.5" cy="277.5" r="3.7"/><circle cx="1315.0" cy="271.3" r="3.7"/><circle cx="1318.8" cy="266.3" r="3.7"/><circle cx="1318.8" cy="257.5" r="3.7"/><circle cx="1318.8" cy="282.5" r="3.7"/><circle cx="1300.6" cy="245.6" r="3.7"/><circle cx="1333.8" cy="246.9" r="3.7"/><circle cx="1348.1" cy="243.8" r="3.7"/><circle cx="1295.6" cy="260.0" r="3.7"/><circle cx="1330.6" cy="259.4" r="3.7"/><circle cx="1342.5" cy="262.5" r="3.7"/><circle cx="1313.8" cy="268.8" r="3.7"/><circle cx="1323.8" cy="271.3" r="3.7"/><circle cx="1330.6" cy="271.3" r="3.7"/><circle cx="1338.1" cy="273.8" r="3.7"/><circle cx="1343.8" cy="280.0" r="3.7"/><circle cx="1321.3" cy="281.3" r="3.7"/><circle cx="1328.1" cy="287.5" r="3.7"/><circle cx="1298.8" cy="280.0" r="3.7"/><circle cx="1298.8" cy="286.3" r="3.7"/><circle cx="1292.5" cy="290.0" r="3.7"/><circle cx="1295.0" cy="295.0" r="3.7"/><circle cx="1203.4" cy="281.2" r="3.7"/><circle cx="1219.5" cy="284.3" r="3.7"/><circle cx="1192.3" cy="295.3" r="3.7"/><circle cx="1206.4" cy="290.3" r="3.7"/><circle cx="1210.5" cy="295.3" r="3.7"/><circle cx="1218.5" cy="292.3" r="3.7"/><circle cx="1222.5" cy="297.4" r="3.7"/><circle cx="1203.4" cy="297.4" r="3.7"/><circle cx="1195.0" cy="295.0" r="3.7"/><circle cx="1200.0" cy="292.5" r="3.7"/><circle cx="1217.5" cy="290.0" r="3.7"/><circle cx="1237.5" cy="283.8" r="3.7"/><circle cx="1235.0" cy="287.5" r="3.7"/><circle cx="1222.5" cy="300.0" r="3.7"/><circle cx="1227.5" cy="297.5" r="3.7"/><circle cx="1232.5" cy="300.0" r="3.7"/><circle cx="1220.0" cy="306.3" r="3.7"/><circle cx="1230.0" cy="311.3" r="3.7"/><circle cx="1235.0" cy="312.5" r="3.7"/><circle cx="1247.5" cy="317.5" r="3.7"/><circle cx="1227.5" cy="317.5" r="3.7"/><circle cx="1232.5" cy="320.0" r="3.7"/><circle cx="1237.5" cy="322.5" r="3.7"/><circle cx="1242.5" cy="320.0" r="3.7"/><circle cx="1235.0" cy="325.0" r="3.7"/><circle cx="1228.8" cy="328.8" r="3.7"/><circle cx="1223.8" cy="332.5" r="3.7"/><circle cx="1250.0" cy="273.8" r="3.7"/><circle cx="1255.0" cy="277.5" r="3.7"/><circle cx="1260.0" cy="273.8" r="3.7"/><circle cx="1265.0" cy="272.5" r="3.7"/><circle cx="1257.5" cy="291.3" r="3.7"/><circle cx="1262.5" cy="295.0" r="3.7"/><circle cx="1267.5" cy="296.3" r="3.7"/><circle cx="1260.0" cy="311.3" r="3.7"/><circle cx="1265.0" cy="313.8" r="3.7"/><circle cx="1256.3" cy="287.5" r="3.7"/><circle cx="1275.0" cy="298.8" r="3.7"/><circle cx="1272.5" cy="306.3" r="3.7"/><circle cx="1286.3" cy="296.3" r="3.7"/><circle cx="1292.5" cy="293.8" r="3.7"/><circle cx="1288.8" cy="303.8" r="3.7"/><circle cx="1283.8" cy="282.5" r="3.7"/><circle cx="1290.0" cy="285.0" r="3.7"/><circle cx="1223.5" cy="303.4" r="3.7"/><circle cx="1248.1" cy="296.5" r="3.7"/><circle cx="1226.4" cy="305.5" r="3.7"/><circle cx="1209.6" cy="299.9" r="3.7"/><circle cx="1204.7" cy="321.9" r="3.7"/><circle cx="1234.0" cy="307.6" r="3.7"/><circle cx="1222.9" cy="324.3" r="3.7"/><circle cx="1226.0" cy="311.0" r="3.7"/><circle cx="1223.8" cy="282.6" r="3.7"/><circle cx="1216.4" cy="279.0" r="3.7"/><circle cx="1244.0" cy="290.6" r="3.7"/><circle cx="1251.0" cy="291.4" r="3.7"/><circle cx="1203.8" cy="308.6" r="3.7"/><circle cx="1204.5" cy="286.6" r="3.7"/><circle cx="1250.1" cy="318.1" r="3.7"/><circle cx="1241.4" cy="275.1" r="3.7"/><circle cx="1229.1" cy="295.1" r="3.7"/><circle cx="1209.9" cy="316.2" r="3.7"/><circle cx="1206.8" cy="309.6" r="3.7"/><circle cx="1206.1" cy="293.1" r="3.7"/><circle cx="1211.1" cy="282.0" r="3.7"/><circle cx="1250.5" cy="321.5" r="3.7"/></g>
<g fill="#00BA38"><circle cx="1062.5" cy="371.3" r="3.7"/><circle cx="1067.5" cy="368.8" r="3.7"/><circle cx="1072.5" cy="365.0" r="3.7"/><circle cx="1076.3" cy="361.9" r="3.7"/><circle cx="1080.0" cy="357.5" r="3.7"/><circle cx="1083.8" cy="353.8" r="3.7"/><circle cx="1085.0" cy="348.8" r="3.7"/><circle cx="1088.8" cy="351.3" r="3.7"/><circle cx="1092.5" cy="348.8" r="3.7"/><circle cx="1095.0" cy="350.0" r="3.7"/><circle cx="1091.3" cy="355.0" r="3.7"/><circle cx="1087.5" cy="356.9" r="3.7"/><circle cx="1086.9" cy="336.3" r="3.7"/><circle cx="1113.8" cy="339.4" r="3.7"/><circle cx="1122.5" cy="332.5" r="3.7"/><circle cx="1156.9" cy="311.3" r="3.7"/><circle cx="1211.4" cy="270.5" r="3.7"/><circle cx="1076.9" cy="403.8" r="3.7"/><circle cx="1096.3" cy="397.5" r="3.7"/><circle cx="1105.0" cy="395.0" r="3.7"/><circle cx="1113.8" cy="391.9" r="3.7"/><circle cx="1127.5" cy="386.3" r="3.7"/><circle cx="1137.5" cy="380.0" r="3.7"/><circle cx="1142.5" cy="381.3" r="3.7"/><circle cx="1147.5" cy="376.3" r="3.7"/><circle cx="1156.3" cy="372.5" r="3.7"/><circle cx="1158.8" cy="380.0" r="3.7"/><circle cx="1172.5" cy="374.9" r="3.7"/><circle cx="1219.6" cy="348.0" r="3.7"/><circle cx="1224.0" cy="342.4" r="3.7"/><circle cx="1233.0" cy="341.3" r="3.7"/><circle cx="1238.6" cy="339.0" r="3.7"/><circle cx="1246.4" cy="333.4" r="3.7"/><circle cx="1243.8" cy="333.8" r="3.7"/><circle cx="1256.3" cy="332.5" r="3.7"/><circle cx="1241.3" cy="337.5" r="3.7"/></g>
<g fill="#619CFF"><circle cx="1000.3" cy="409.5" r="3.7"/><circle cx="1001.5" cy="407.0" r="3.7"/><circle cx="996.3" cy="422.5" r="3.7"/><circle cx="1208.4" cy="357.0" r="3.7"/><circle cx="1214.0" cy="361.4" r="3.7"/><circle cx="1220.7" cy="355.8" r="3.7"/><circle cx="1212.8" cy="353.6" r="3.7"/></g></g>
<path d="M85.7 428.1L154.9 428.1M154.9 428.1L738.3 32.5M168.8 475L168.8 437.5M168.8 437.5L738.3 180M168.8 418.7L168.8 32.5M85.7 354.3L168.8 354.3M168.8 354.3L738.3 32.5M239.9 475L299.3 428.1M299.3 475L299.3 428.1M299.3 428.1L738.3 428.1M370.5 428.1L370.5 354.3M370.5 354.3L738.3 354.3" stroke="#000" stroke-width="1.4" fill="none"/>
<text x="369.7" y="330.6" fill="#0000FF" font-size="25.5" text-anchor="middle">A</text>
<text x="227.3" y="350.7" fill="#0000FF" font-size="25.5" text-anchor="middle">B</text>
<text x="500.2" y="330.6" fill="#0000FF" font-size="25.5" text-anchor="middle">B</text>
<text x="227.3" y="283.7" fill="#0000FF" font-size="25.5" text-anchor="middle">C</text>
<text x="278.3" y="471.4" fill="#0000FF" font-size="25.5" text-anchor="middle">C</text>
<text x="126.4" y="397.6" fill="#FF0000" font-size="25.5" text-anchor="middle">D</text>
<text x="500.2" y="397.6" fill="#FF0000" font-size="25.5" text-anchor="middle">D</text>
<text x="126.4" y="283.7" fill="#FF0000" font-size="25.5" text-anchor="middle">E</text>
<text x="500.2" y="461.3" fill="#FF0000" font-size="25.5" text-anchor="middle">E</text>
<rect x="86" y="32.5" width="651.6" height="442.5" fill="none" stroke="#333" stroke-width="1.4"/>
<path d="M168.8 475v2.6M204.4 475v2.6M263.7 475v2.6M299.3 475v2.6M370.5 475v2.6M441.7 475v2.6M501 475v2.6M560.3 475v2.6M619.6 475v2.6M679 475v2.6M85.7 428.1h-5M85.7 407.9h-5M85.7 374.4h-5M85.7 354.3h-5M85.7 314.1h-5M85.7 273.9h-5M85.7 240.3h-5M85.7 206.8h-5M85.7 173.3h-5M85.7 139.8h-5M85.7 106.2h-5M85.7 72.7h-5M85.7 39.2h-5" stroke="#333" stroke-width="1.4"/>
<g fill="#4D4D4D" font-size="17.7" stroke="#4D4D4D" stroke-width="0.3">
<text transform="translate(168.8 497.7) scale(1.075 1)" text-anchor="middle">3.9</text>
<text transform="translate(204.4 497.7) scale(1.075 1)" text-anchor="middle">5.6</text>
<text transform="translate(263.7 497.7) scale(1.075 1)" text-anchor="middle">8.3</text>
<text transform="translate(299.3 497.7) scale(1.075 1)" text-anchor="middle">10.0</text>
<text transform="translate(370.5 497.7) scale(1.075 1)" text-anchor="middle">13.3</text>
<text transform="translate(441.7 497.7) scale(1.075 1)" text-anchor="middle">16.7</text>
<text transform="translate(501 497.7) scale(1.075 1)" text-anchor="middle">19.4</text>
<text transform="translate(560.3 497.7) scale(1.075 1)" text-anchor="middle">22.2</text>
<text transform="translate(619.6 497.7) scale(1.075 1)" text-anchor="middle">25.0</text>
<text transform="translate(679 497.7) scale(1.075 1)" text-anchor="middle">27.8</text>
<text transform="translate(77.3 436.5) scale(1.075 1)" text-anchor="end">3.9</text>
<text transform="translate(77.3 416.3) scale(1.075 1)" text-anchor="end">5.6</text>
<text transform="translate(77.3 382.8) scale(1.075 1)" text-anchor="end">8.3</text>
<text transform="translate(77.3 362.7) scale(1.075 1)" text-anchor="end">10.0</text>
<text transform="translate(77.3 322.5) scale(1.075 1)" text-anchor="end">13.3</text>
<text transform="translate(77.3 282.2) scale(1.075 1)" text-anchor="end">16.7</text>
<text transform="translate(77.3 248.7) scale(1.075 1)" text-anchor="end">19.4</text>
<text transform="translate(77.3 215.2) scale(1.075 1)" text-anchor="end">22.2</text>
<text transform="translate(77.3 181.7) scale(1.075 1)" text-anchor="end">25.0</text>
<text transform="translate(77.3 148.2) scale(1.075 1)" text-anchor="end">27.8</text>
<text transform="translate(77.3 114.6) scale(1.075 1)" text-anchor="end">30.6</text>
<text transform="translate(77.3 81.1) scale(1.075 1)" text-anchor="end">33.3</text>
<text transform="translate(77.3 47.6) scale(1.075 1)" text-anchor="end">36.1</text>
</g>
<text x="412" y="522.6" font-size="23.3" text-anchor="middle" fill="#000" stroke="#000" stroke-width="0.3">Reference Glucose Concentration (mmol/L)</text>
<text transform="translate(35.2 253.2) rotate(-90)" font-size="24.2" text-anchor="middle" fill="#000" stroke="#000" stroke-width="0.3">Test Glucose Concentration (mmol/L)</text>
<text x="-0.5" y="24.3" font-size="30" font-weight="bold" fill="#000">B</text>
<text x="761.3" y="219.3" font-size="23" fill="#000">zones</text>
<circle cx="775.5" cy="246" r="3.6" fill="#F8766D"/>
<text x="799" y="254.6" font-size="18.3" fill="#000">A</text>
<circle cx="775.5" cy="271.3" r="3.6" fill="#00BA38"/>
<text x="799" y="279.9" font-size="18.3" fill="#000">B</text>
<circle cx="775.5" cy="296.6" r="3.6" fill="#619CFF"/>
<text x="799" y="305.2" font-size="18.3" fill="#000">D</text>
</g>
</svg>
</body></html>
